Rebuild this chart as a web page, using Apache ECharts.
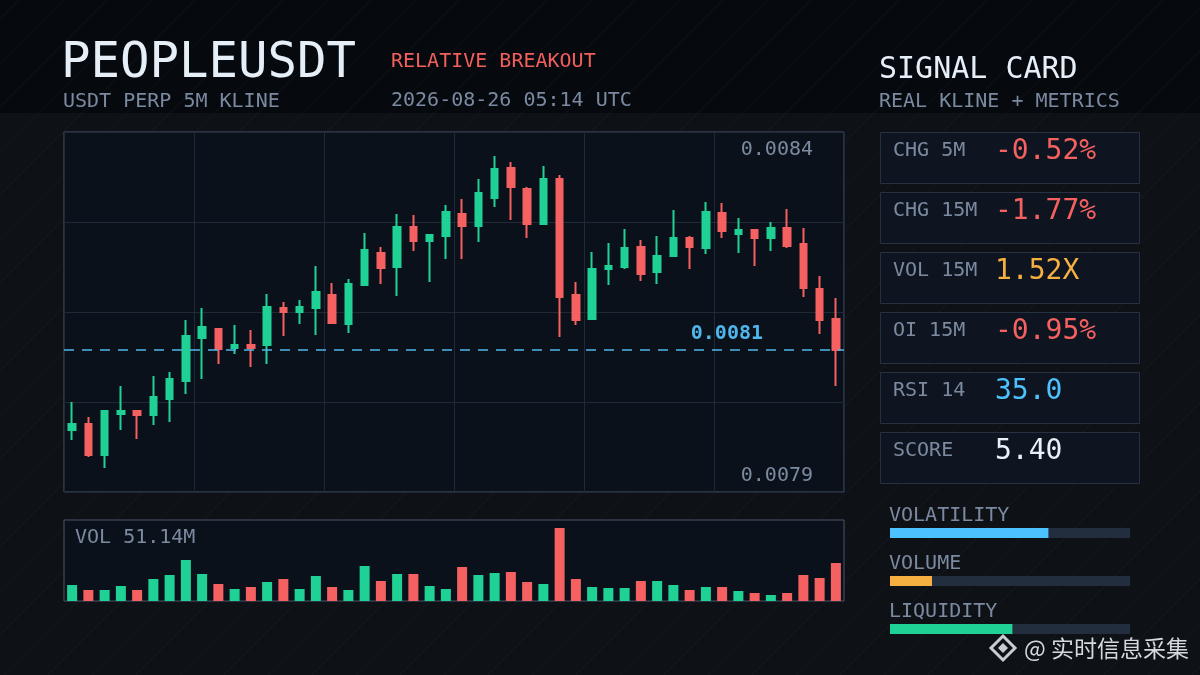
<!DOCTYPE html>
<html><head><meta charset="utf-8">
<script src="https://cdn.jsdelivr.net/npm/echarts@6/dist/echarts.min.js"></script>
<style>html,body{margin:0;padding:0;background:#0e1116;}#c{width:1200px;height:675px;}</style>
</head><body><div id="c"></div><script>
// ---------- DATA ----------
const times = ['01:15','01:20','01:25','01:30','01:35','01:40','01:45','01:50','01:55',
 '02:00','02:05','02:10','02:15','02:20','02:25','02:30','02:35','02:40','02:45','02:50','02:55',
 '03:00','03:05','03:10','03:15','03:20','03:25','03:30','03:35','03:40','03:45','03:50','03:55',
 '04:00','04:05','04:10','04:15','04:20','04:25','04:30','04:35','04:40','04:45','04:50','04:55',
 '05:00','05:05','05:10'];
const opens = [
 0.0079861,0.0079944,0.0079514,0.0080083,0.0080125,0.0080069,0.0080292,0.0080542,
 0.0081139,0.0081264,0.0081000,0.0081042,0.0081042,0.0081556,0.0081500,0.0081556,
 0.0081736,0.0081333,0.0081875,0.0082319,0.0082125,0.0082681,0.0082486,0.0082556,
 0.0082861,0.0082694,0.0083083,0.0083500,0.0083208,0.0082722,0.0083347,0.0081736,
 0.0081403,0.0082097,0.0082125,0.0082403,0.0082056,0.0082278,0.0082528,0.0082389,
 0.0082875,0.0082583,0.0082639,0.0082528,0.0082667,0.0082444,0.0081819,0.0081403];
const closes = [
 0.0079944,0.0079514,0.0080125,0.0080125,0.0080069,0.0080319,0.0080569,0.0081167,
 0.0081292,0.0080986,0.0081042,0.0081000,0.0081569,0.0081500,0.0081569,0.0081778,
 0.0081347,0.0081889,0.0082361,0.0082111,0.0082681,0.0082486,0.0082569,0.0082889,
 0.0082694,0.0083153,0.0083486,0.0083236,0.0082722,0.0083347,0.0081708,0.0081389,
 0.0082097,0.0082139,0.0082389,0.0082028,0.0082278,0.0082528,0.0082403,0.0082889,
 0.0082625,0.0082639,0.0082528,0.0082667,0.0082417,0.0081833,0.0081389,0.0080972];
const lows = [
 0.0079722,0.0079486,0.0079333,0.0079861,0.0079736,0.0079931,0.0079972,0.0080361,
 0.0080569,0.0080778,0.0080917,0.0080736,0.0080778,0.0081167,0.0081333,0.0081181,
 0.0081333,0.0081208,0.0081861,0.0081889,0.0081722,0.0082347,0.0081917,0.0082236,
 0.0082236,0.0082472,0.0082958,0.0082778,0.0082528,0.0082708,0.0081153,0.0081319,
 0.0081403,0.0081875,0.0082097,0.0081931,0.0081889,0.0082278,0.0082097,0.0082306,
 0.0082528,0.0082319,0.0082139,0.0082347,0.0082389,0.0081708,0.0081194,0.0080472];
const highs = [
 0.0080250,0.0080042,0.0080139,0.0080472,0.0080139,0.0080611,0.0080667,0.0081389,
 0.0081556,0.0081278,0.0081319,0.0081250,0.0081750,0.0081639,0.0081667,0.0082139,
 0.0081903,0.0081958,0.0082597,0.0082403,0.0082861,0.0082847,0.0082583,0.0082986,
 0.0083069,0.0083347,0.0083667,0.0083583,0.0083236,0.0083528,0.0083403,0.0081917,
 0.0082333,0.0082458,0.0082653,0.0082500,0.0082556,0.0082917,0.0082556,0.0083028,
 0.0083014,0.0082806,0.0082653,0.0082750,0.0082931,0.0082667,0.0082000,0.0081694];
const volumes = [
 4.8,3.3,3.3,4.5,3.3,6.6,7.8,12.3,
 8.1,5.1,3.6,4.2,5.7,6.6,3.6,7.5,
 4.2,3.3,10.5,6.0,8.1,8.1,4.5,3.6,
 10.2,7.8,8.4,8.7,5.7,5.1,21.9,6.6,
 4.2,3.9,3.9,6.0,6.0,4.8,3.3,4.2,
 4.2,3.0,2.4,1.8,2.4,7.8,6.9,11.4];
const priceTickLabels = ['0.0084','0.0079'];
const volLabel = 'VOL 51.14M';
const cardLabels = ['CHG 5M','CHG 15M','VOL 15M','OI 15M','RSI 14','SCORE'];
const cardValues = ['-0.52%','-1.77%','1.52X','-0.95%','35.0','5.40'];
const metricNames = ['VOLATILITY','VOLUME','LIQUIDITY'];
const metricValues = [66, 17.5, 51];

// ---------- STYLE ----------
const MONO = '"DejaVu Sans Mono", "Liberation Mono", monospace';
const G = '#20d196', R = '#f56161';
const MUTED = '#7b8aa0';
const LASTC = '#4fb6ec';
const cardColors = [R, R, '#f5b041', R, '#4cc2ff', '#e8f0fa'];
const metricColors = ['#4cc2ff', '#f5b041', G];
const lastClose = closes[closes.length - 1];

function txt(x, y, text, size, color, align, family, weight) {
  return {
    type: 'text', silent: true, z: 10,
    style: {
      x: x, y: y, text: text, fill: color,
      font: (weight ? weight + ' ' : '') + size + 'px ' + (family || MONO),
      textAlign: align || 'left', align: align || 'left',
      textVerticalAlign: 'middle', verticalAlign: 'middle'
    }
  };
}

const graphics = [];
graphics.push({type:'rect', silent:true, z:-10, shape:{x:0,y:0,width:1200,height:675}, style:{fill:'#0e1116'}});
graphics.push({type:'rect', silent:true, z:-9, shape:{x:0,y:0,width:1200,height:113}, style:{fill:'#06090e'}});
for (let x0 = -700; x0 < 1200; x0 += 44) {
  graphics.push({type:'line', silent:true, z:-8, shape:{x1:x0,y1:675,x2:x0+675,y2:0},
    style:{stroke:'rgba(130,150,180,0.06)', lineWidth:1}});
}
// header
graphics.push(txt(61, 64, 'PEOPLEUSDT', 49, '#e6eef8'));
graphics.push(txt(63, 102, 'USDT PERP 5M KLINE', 20, MUTED));
graphics.push(txt(391, 62, 'RELATIVE BREAKOUT', 20, '#f25f5c'));
graphics.push(txt(391, 101, '2026-08-26 05:14 UTC', 20, MUTED));
graphics.push(txt(879, 70, 'SIGNAL CARD', 30, '#e6eef8'));
graphics.push(txt(879, 102, 'REAL KLINE + METRICS', 20, MUTED));
// price tick labels
graphics.push(txt(813, 150, priceTickLabels[0], 20, MUTED, 'right'));
graphics.push(txt(813, 476, priceTickLabels[1], 20, MUTED, 'right'));
graphics.push(txt(75, 538, volLabel, 20, MUTED));
// cards
cardLabels.forEach((lab, i) => {
  graphics.push({type:'rect', silent:true, z:5, shape:{x:880.5, y:132.5 + 60*i, width:259, height:51},
    style:{fill:'#0f1520', stroke:'#263142', lineWidth:1}});
  graphics.push(txt(893, 151 + 60*i, lab, 20, MUTED));
  graphics.push(txt(995, 152 + 60*i, cardValues[i], 28, cardColors[i]));
});
// metric labels
metricNames.forEach((m, i) => {
  graphics.push(txt(889, 516 + 48*i, m, 20, MUTED));
});
// watermark
graphics.push({type:'polygon', silent:true, z:20, shape:{points:[[1003,636],[1015,648],[1003,660],[991,648]]},
  style:{fill:'none', stroke:'#c9cdd3', lineWidth:3}});
graphics.push({type:'polygon', silent:true, z:20, shape:{points:[[1003,643],[1008,648],[1003,653],[998,648]]},
  style:{fill:'#c9cdd3'}});
graphics.push(txt(1024, 648, '@ 实时信息采集', 23, '#d5d8dc', 'left', '"Noto Sans CJK SC", sans-serif'));

const candleData = times.map((t, i) => [opens[i], closes[i], lows[i], highs[i]]);
const volData = volumes.map((v, i) => ({value: v, itemStyle: {color: closes[i] >= opens[i] ? G : R}}));

const chart = echarts.init(document.getElementById('c'), null, {renderer: 'canvas'});
chart.setOption({
  backgroundColor: '#0e1116',
  animation: false,
  graphic: {elements: graphics},
  grid: [
    {left: 64, top: 132, width: 780, height: 360, show: true, backgroundColor: '#0b111b', borderColor: '#4a5568', borderWidth: 1},
    {left: 64, top: 520, width: 780, height: 81, show: true, backgroundColor: '#0b111b', borderColor: '#4a5568', borderWidth: 1},
    {left: 890, top: 509, width: 240, height: 144, show: false}
  ],
  xAxis: [
    {type: 'category', gridIndex: 0, data: times, boundaryGap: true,
     axisLine: {show: false}, axisTick: {show: false}, axisLabel: {show: false},
     splitLine: {show: true, interval: 7, lineStyle: {color: '#1f2938', width: 1}}},
    {type: 'category', gridIndex: 1, data: times, boundaryGap: true,
     axisLine: {show: false}, axisTick: {show: false}, axisLabel: {show: false}, splitLine: {show: false}},
    {type: 'value', gridIndex: 2, min: 0, max: 100, show: false}
  ],
  yAxis: [
    {type: 'value', gridIndex: 0, min: 0.0079, max: 0.0084, scale: true,
     axisLine: {show: false}, axisTick: {show: false}, axisLabel: {show: false}, splitLine: {show: false}},
    {type: 'value', gridIndex: 0, min: 0, max: 4, interval: 1, position: 'left',
     axisLine: {show: false}, axisTick: {show: false}, axisLabel: {show: false},
     splitLine: {show: true, lineStyle: {color: '#1f2938', width: 1}}},
    {type: 'value', gridIndex: 1, min: 0, max: 24.3, show: false, splitLine: {show: false}},
    {type: 'category', gridIndex: 2, data: metricNames, inverse: true, show: false}
  ],
  series: [
    {type: 'candlestick', xAxisIndex: 0, yAxisIndex: 0, data: candleData, barWidth: 7,
     itemStyle: {color: G, color0: R, borderColor: G, borderColor0: R, borderWidth: 2}},
    {type: 'bar', xAxisIndex: 1, yAxisIndex: 2, data: volData, barWidth: 10},
    {type: 'bar', xAxisIndex: 2, yAxisIndex: 3, barWidth: 10,
     data: metricValues.map((v, i) => ({value: v, itemStyle: {color: metricColors[i]}})),
     showBackground: true, backgroundStyle: {color: '#222d3d'}}
  ]
});

// last price dashed line, positioned through the library's own y scale
const yPix = chart.convertToPixel({yAxisIndex: 0}, lastClose);
const rectG = chart.getModel().getComponent('grid', 0).coordinateSystem.getRect();
graphics.push({type: 'line', silent: true, z: 8,
  shape: {x1: rectG.x, y1: yPix, x2: rectG.x + rectG.width, y2: yPix},
  style: {stroke: LASTC, lineWidth: 1.5, lineDash: [10, 8]}});
graphics.push(txt(763, yPix - 16, lastClose.toFixed(4), 20, LASTC, 'right', MONO, 'bold'));
chart.setOption({graphic: {elements: graphics}}, {replaceMerge: ['graphic']});
</script></body></html>
